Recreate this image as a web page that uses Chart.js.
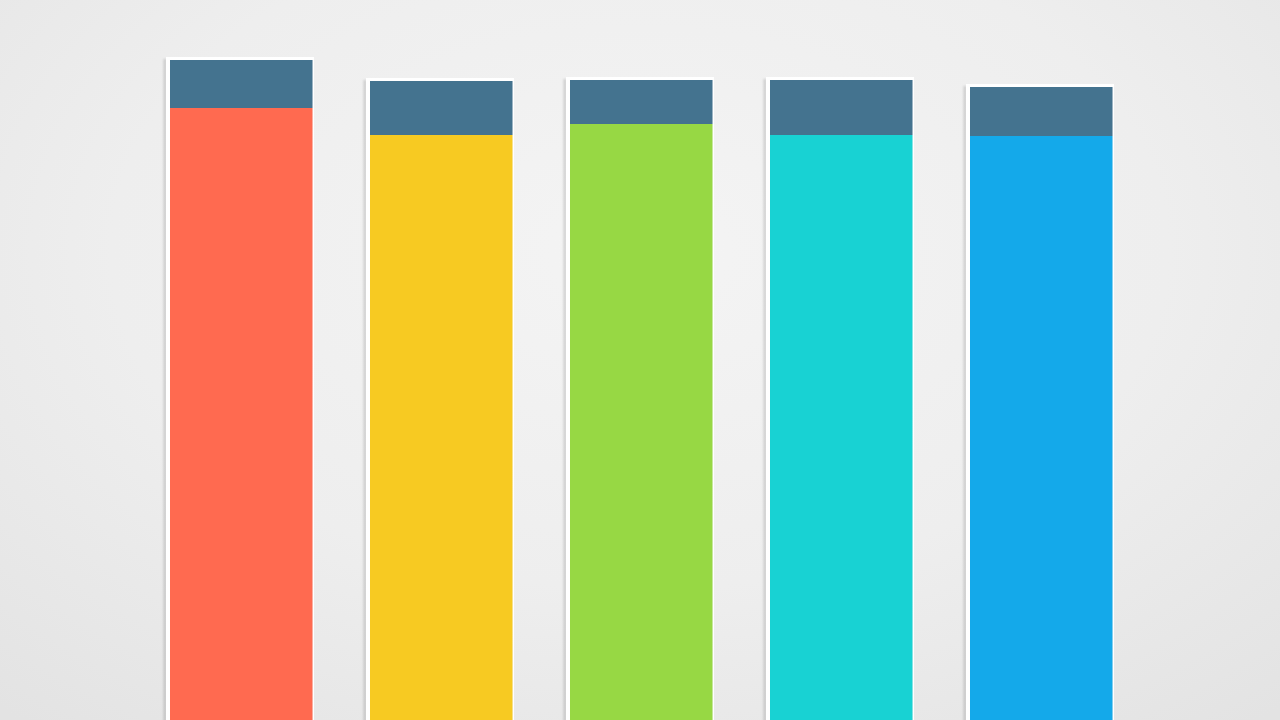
<!DOCTYPE html>
<html>
<head>
<meta charset="utf-8">
<script src="https://cdn.jsdelivr.net/npm/chart.js@4/dist/chart.umd.min.js"></script>
<style>
  html, body { margin: 0; padding: 0; width: 1280px; height: 720px; overflow: hidden; }
  body { background: radial-gradient(ellipse 75% 85% at 50% 35%, #f4f4f4 0%, #eeeeee 55%, #e3e3e3 100%); }
  #wrap { position: absolute; left: 0; top: 0; width: 1280px; height: 720px; }
</style>
</head>
<body>
<div id="wrap"><canvas id="c"></canvas></div>
<script>
// Data
const categories = ["A", "B", "C", "D", "E"];
const baseValues = [61.2, 58.5, 59.6, 58.5, 58.4];
const topValues = [5.1, 5.7, 4.7, 5.8, 5.2];
const baseColors = ["#FF6A50", "#F7CA22", "#97D844", "#18D2D3", "#14A9EA"];
const topColor = "#44738F";
const axisMax = 72;

const shadowPlugin = {
  id: 'barShadow',
  beforeDatasetsDraw(chart) {
    const ctx = chart.ctx;
    const area = chart.chartArea;
    const metaTop = chart.getDatasetMeta(1);
    ctx.save();
    ctx.fillStyle = 'rgba(0,0,0,0.14)';
    ctx.filter = 'blur(1px)';
    metaTop.data.forEach((el) => {
      const p = el.getProps(['x', 'y', 'width'], true);
      const left = p.x - p.width / 2;
      ctx.fillRect(left - 2.5, p.y + 2, 3, area.bottom - p.y + 10);
    });
    ctx.restore();
  }
};

new Chart(document.getElementById('c'), {
  type: 'bar',
  data: {
    labels: categories,
    datasets: [
      {
        data: baseValues,
        backgroundColor: baseColors,
        borderColor: '#ffffff',
        borderWidth: { left: 4, right: 1.5, top: 0, bottom: 0 },
        borderSkipped: false,
        barPercentage: 0.74,
        categoryPercentage: 1.0
      },
      {
        data: topValues,
        backgroundColor: topColor,
        borderColor: '#ffffff',
        borderWidth: { left: 4, right: 1.5, top: 3, bottom: 0 },
        borderSkipped: false,
        barPercentage: 0.74,
        categoryPercentage: 1.0
      }
    ]
  },
  options: {
    responsive: true,
    maintainAspectRatio: false,
    animation: false,
    layout: { padding: { left: 140, right: 140, top: 0, bottom: 0 } },
    plugins: { legend: { display: false }, tooltip: { enabled: false } },
    scales: {
      x: { stacked: true, display: false },
      y: { stacked: true, display: false, min: 0, max: axisMax }
    }
  },
  plugins: [shadowPlugin]
});
</script>
</body>
</html>
